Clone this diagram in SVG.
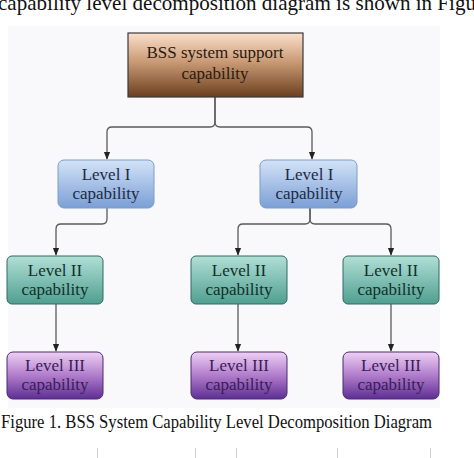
<svg xmlns="http://www.w3.org/2000/svg" width="474" height="458" viewBox="0 0 474 458">
<defs>
<linearGradient id="gTop" x1="0" y1="0" x2="0" y2="1"><stop offset="0" stop-color="#fbe0cb"/><stop offset="0.45" stop-color="#c99a75"/><stop offset="1" stop-color="#6b3f1f"/></linearGradient>
<linearGradient id="gL1" x1="0" y1="0" x2="0" y2="1"><stop offset="0" stop-color="#d3e3f7"/><stop offset="1" stop-color="#7b9fd6"/></linearGradient>
<linearGradient id="gL2" x1="0" y1="0" x2="0" y2="1"><stop offset="0" stop-color="#b2dfd6"/><stop offset="1" stop-color="#4f9f90"/></linearGradient>
<linearGradient id="gL3" x1="0" y1="0" x2="0" y2="1"><stop offset="0" stop-color="#efd0f3"/><stop offset="0.5" stop-color="#b07ccb"/><stop offset="1" stop-color="#5e2f94"/></linearGradient>
<marker id="arr" viewBox="0 0 10 10" refX="9" refY="5" markerWidth="6" markerHeight="6" orient="auto"><path d="M0,1 L10,5 L0,9 z" fill="#222"/></marker>
</defs>
<style>
.t{font-family:"Liberation Serif","Times New Roman",serif;}
.n{font-family:"Liberation Serif","Times New Roman",serif;font-size:17px;text-anchor:middle;}
.c{fill:none;stroke:#5a5a5a;stroke-width:1.3;}
</style>
<rect width="474" height="458" fill="#ffffff"/>
<text class="t" x="-2" y="10" font-size="22" textLength="478" lengthAdjust="spacingAndGlyphs" fill="#111">capability level decomposition diagram is shown in Figu</text>
<rect x="8" y="26" width="432" height="382" fill="#f9f9fc"/>
<g id="connectors">
<path class="c" d="M215,97 V122 Q215,127 210,127 H112 Q107,127 107,132 V159" marker-end="url(#arr)"/>
<path class="c" d="M215,97 V122 Q215,127 220,127 H307 Q312,127 312,132 V159" marker-end="url(#arr)"/>
<path class="c" d="M107,208 V219 Q107,224 102,224 H61 Q56,224 56,229 V255" marker-end="url(#arr)"/>
<path class="c" d="M310,208 V219 Q310,224 305,224 H243 Q238,224 238,229 V255" marker-end="url(#arr)"/>
<path class="c" d="M310,208 V219 Q310,224 315,224 H386 Q391,224 391,229 V255" marker-end="url(#arr)"/>
<path class="c" d="M56,304 V351" marker-end="url(#arr)"/>
<path class="c" d="M238,304 V351" marker-end="url(#arr)"/>
<path class="c" d="M391,304 V351" marker-end="url(#arr)"/>
</g>
<g id="root">
<rect x="128" y="33" width="175" height="64" fill="url(#gTop)" stroke="#3a3a3a" stroke-width="1.2"/>
<text class="n" x="215" y="58" fill="#2a1a10">BSS system support</text>
<text class="n" x="215" y="79" fill="#2a1a10">capability</text>
</g>
<g id="l1a">
<rect x="58" y="160" width="96" height="48" rx="6" fill="url(#gL1)" stroke="#7e9bc8" stroke-width="1"/>
<text class="n" x="106" y="180" fill="#1e2a44">Level I</text>
<text class="n" x="106" y="199" fill="#1e2a44">capability</text>
</g>
<g id="l1b">
<rect x="260" y="160" width="97" height="48" rx="6" fill="url(#gL1)" stroke="#7e9bc8" stroke-width="1"/>
<text class="n" x="309" y="180" fill="#1e2a44">Level I</text>
<text class="n" x="309" y="199" fill="#1e2a44">capability</text>
</g>
<g id="l2a">
<rect x="7" y="256" width="96" height="48" rx="5" fill="url(#gL2)" stroke="#2f6b62" stroke-width="1"/>
<text class="n" x="55" y="276" fill="#10302b">Level II</text>
<text class="n" x="55" y="295" fill="#10302b">capability</text>
</g>
<g id="l2b">
<rect x="191" y="256" width="96" height="48" rx="5" fill="url(#gL2)" stroke="#2f6b62" stroke-width="1"/>
<text class="n" x="239" y="276" fill="#10302b">Level II</text>
<text class="n" x="239" y="295" fill="#10302b">capability</text>
</g>
<g id="l2c">
<rect x="343" y="256" width="96" height="48" rx="5" fill="url(#gL2)" stroke="#2f6b62" stroke-width="1"/>
<text class="n" x="391" y="276" fill="#10302b">Level II</text>
<text class="n" x="391" y="295" fill="#10302b">capability</text>
</g>
<g id="l3a">
<rect x="7" y="352" width="96" height="47" rx="6" fill="url(#gL3)" stroke="#4a2a70" stroke-width="1"/>
<text class="n" x="55" y="371" fill="#3a1c58">Level III</text>
<text class="n" x="55" y="390" fill="#3a1c58">capability</text>
</g>
<g id="l3b">
<rect x="191" y="352" width="96" height="47" rx="6" fill="url(#gL3)" stroke="#4a2a70" stroke-width="1"/>
<text class="n" x="239" y="371" fill="#3a1c58">Level III</text>
<text class="n" x="239" y="390" fill="#3a1c58">capability</text>
</g>
<g id="l3c">
<rect x="343" y="352" width="96" height="47" rx="6" fill="url(#gL3)" stroke="#4a2a70" stroke-width="1"/>
<text class="n" x="391" y="371" fill="#3a1c58">Level III</text>
<text class="n" x="391" y="390" fill="#3a1c58">capability</text>
</g>
<text class="t" x="1" y="428" font-size="18" textLength="431" lengthAdjust="spacingAndGlyphs" fill="#111">Figure 1. BSS System Capability Level Decomposition Diagram</text>
<g stroke="#cfcfcf" stroke-width="1">
<line x1="97.5" y1="448" x2="97.5" y2="458"/>
<line x1="195.5" y1="448" x2="195.5" y2="458"/>
<line x1="236.5" y1="448" x2="236.5" y2="458"/>
<line x1="337.5" y1="448" x2="337.5" y2="458"/>
<line x1="430.5" y1="448" x2="430.5" y2="458"/>
</g>
</svg>
